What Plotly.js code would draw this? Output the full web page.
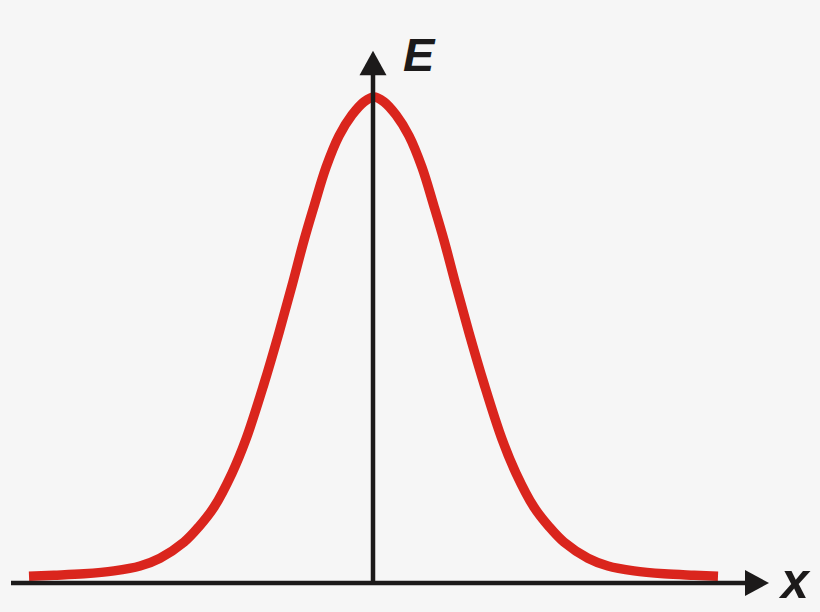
<!DOCTYPE html>
<html>
<head>
<meta charset="utf-8">
<script src="https://cdn.plot.ly/plotly-3.0.1.min.js"></script>
<style>html,body{margin:0;padding:0;background:#f6f6f6;}#chart{width:820px;height:612px;}</style>
</head>
<body>
<div id="chart"></div>
<script>
// Curve: position x and energy E (peak = 1)
const positionX = [-3.45,-3.20,-2.90,-2.60,-2.34,-2.14,-1.90,-1.75,-1.60,-1.42,-1.28,-1.10,-0.95,-0.82,-0.70,-0.60,-0.48,-0.35,-0.22,-0.10,0.00,
                    0.10,0.22,0.35,0.48,0.60,0.70,0.82,0.95,1.10,1.28,1.42,1.60,1.75,1.90,2.14,2.34,2.60,2.90,3.20,3.44];
const energyE   = [0.014,0.016,0.019,0.025,0.035,0.051,0.084,0.116,0.156,0.226,0.296,0.410,0.515,0.612,0.705,0.775,0.855,0.920,0.963,0.990,1.000,
                    0.990,0.963,0.920,0.855,0.775,0.705,0.612,0.515,0.410,0.296,0.226,0.156,0.116,0.084,0.051,0.035,0.025,0.019,0.016,0.014];
const axisLabels = ["E", "x"];

const ink = "#1c1a1a";
const trace = {
  x: positionX, y: energyE, type: "scatter", mode: "lines",
  line: {color: "#da251d", width: 9.5, shape: "spline", smoothing: 1},
  hoverinfo: "skip"
};

const layout = {
  width: 820, height: 612,
  margin: {l: 0, r: 0, t: 0, b: 0},
  paper_bgcolor: "#f6f6f6", plot_bgcolor: "#f6f6f6",
  showlegend: false,
  xaxis: {range: [-3.74, 4.46], visible: false, fixedrange: true},
  yaxis: {range: [-0.0597, 1.1996], visible: false, fixedrange: true},
  shapes: [
    {type: "line", xref: "x", yref: "y", x0: -3.63, x1: 3.72, y0: 0, y1: 0,
     line: {color: ink, width: 4.5}, layer: "above"},
    {type: "line", xref: "x", yref: "y", x0: -0.01, x1: -0.01, y0: -0.004, y1: 1.046,
     line: {color: ink, width: 4.5}, layer: "above"},
    {type: "path", xref: "x", yref: "y", path: "M -0.145,1.045 L 0.125,1.045 L -0.01,1.095 Z",
     fillcolor: ink, line: {color: ink, width: 0}, layer: "above"},
    {type: "path", xref: "x", yref: "y", path: "M 3.71,0.0267 L 3.71,-0.0267 L 3.95,0 Z",
     fillcolor: ink, line: {color: ink, width: 0}, layer: "above"}
  ],
  annotations: [
    {text: "<b><i>" + axisLabels[0] + "</i></b>", xref: "x", yref: "y", x: 0.45, y: 1.088,
     xanchor: "center", yanchor: "middle", showarrow: false,
     font: {family: "Liberation Sans, Arial, sans-serif", size: 47, color: ink}},
    {text: "<b><i>" + axisLabels[1] + "</i></b>", xref: "x", yref: "y", x: 4.20, y: 0.004,
     xanchor: "center", yanchor: "middle", showarrow: false,
     font: {family: "Liberation Sans, Arial, sans-serif", size: 50, color: ink}}
  ]
};

Plotly.newPlot("chart", [trace], layout, {displayModeBar: false, staticPlot: true});
</script>
</body>
</html>
